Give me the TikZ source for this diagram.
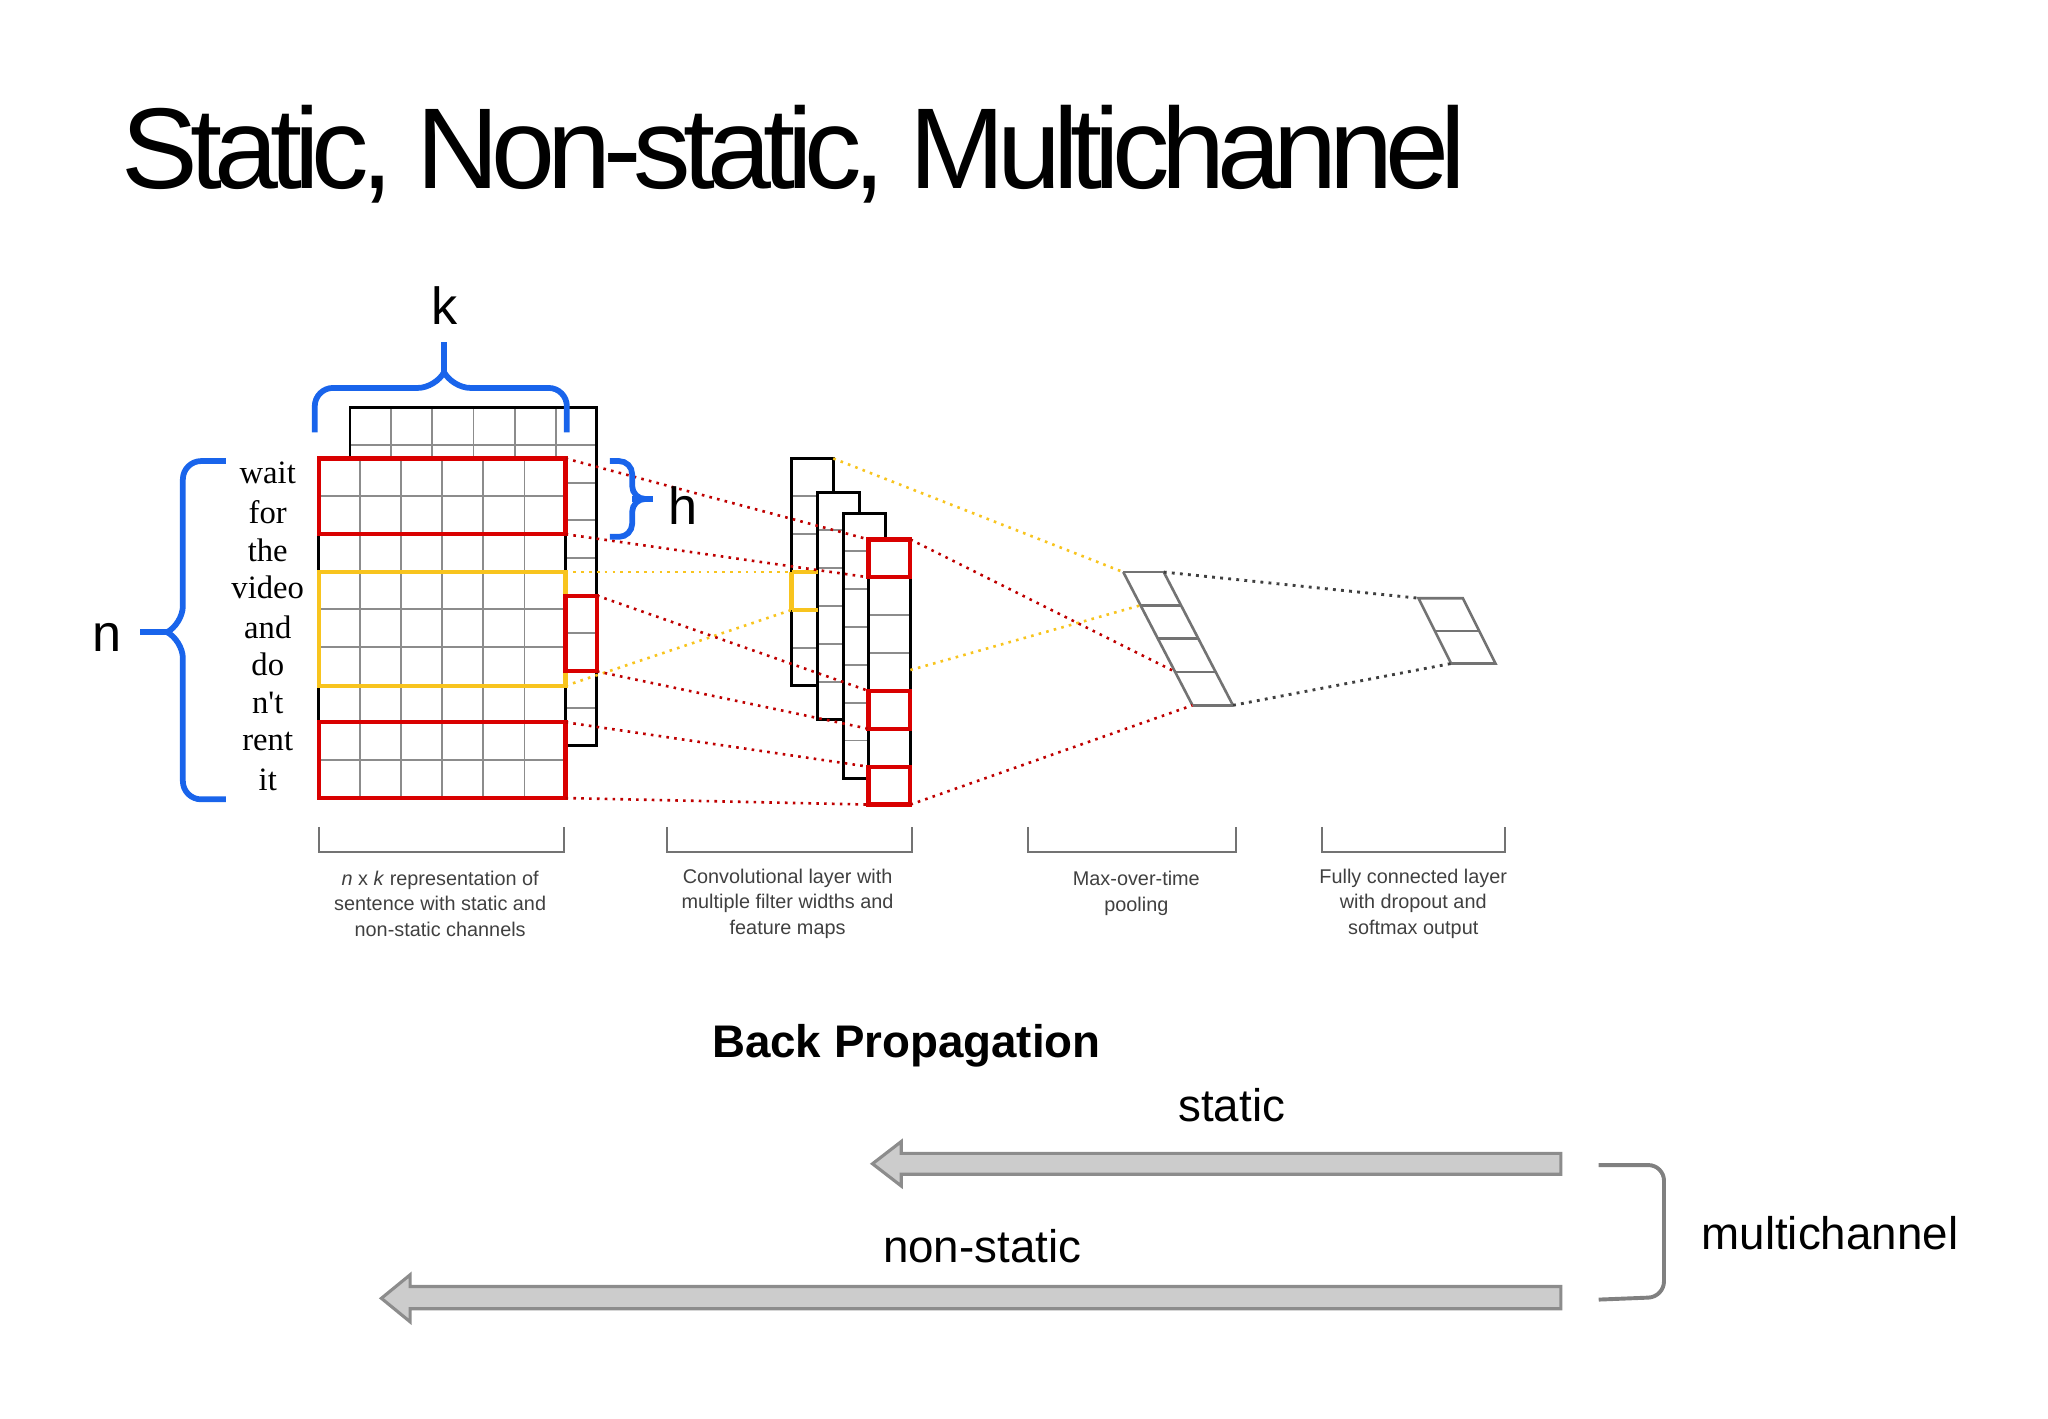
\documentclass[tikz,border=0pt]{standalone}
\usepackage{fontspec}
\setmainfont{Liberation Sans}
\newfontfamily\serifw{Liberation Serif}
\definecolor{ygold}{RGB}{248,196,30}
\definecolor{bbrace}{RGB}{25,100,235}
\begin{document}
\begin{tikzpicture}[x=0.5pt,y=-0.5pt,
  gridc/.style={draw=black!45,line width=0.7pt},
  outer/.style={draw=black,line width=1.1pt},
  redb/.style={draw=red!85!black,line width=1.6pt},
  yelb/.style={draw=ygold,line width=1.6pt},
  rdot/.style={red!75!black,dotted,line width=1pt},
  ydot/.style={ygold,dotted,line width=1pt},
  kdot/.style={black!75,dotted,line width=1.1pt},
  brace/.style={draw=bbrace,line width=2.2pt,rounded corners=7pt},
  word/.style={font=\serifw\fontsize{12.5}{13}\selectfont,inner sep=0pt},
  captxt/.style={font=\fontsize{7.6}{9.7}\selectfont,align=center,text=black!75,inner sep=0pt},
  brk/.style={draw=black!55,line width=0.8pt},
  big/.style={font=\fontsize{17.5}{20}\selectfont,inner sep=0pt},
  bparrow/.style={fill=black!20,draw=black!45,line width=1.2pt}]
\useasboundingbox (0,0) rectangle (1568,1086);
% title
\node[anchor=west,inner sep=0pt,font=\fontsize{44}{50}\selectfont\addfontfeatures{LetterSpace=-7}] (title) at (93,118) {Static, Non-static, Multichannel};
% back matrix
\fill[white] (268,312) rectangle (457,571);
\foreach \i in {1,...,8} \draw[gridc] (268,312+28.78*\i) -- (457,312+28.78*\i);
\foreach \j in {1,...,5} \draw[gridc] (268+31.5*\j,312) -- (268+31.5*\j,571);
\draw[outer] (268,312) rectangle (457,571);
% front matrix
\fill[white] (244,351) rectangle (433,611);
\foreach \i in {1,...,8} \draw[gridc] (244,351+28.89*\i) -- (433,351+28.89*\i);
\foreach \j in {1,...,5} \draw[gridc] (244+31.5*\j,351) -- (244+31.5*\j,611);
\draw[outer] (244,351) rectangle (433,611);
\draw[redb] (244,351) rectangle (433,409);
\draw[yelb] (244,438) rectangle (433,525);
\draw[redb] (244,553) rectangle (433,611);
\draw[redb] (433,456) rectangle (457,514);
% words
\foreach \w/\y in {wait/362,for/392,the/421,video/450,and/480,do/509,n't/538,rent/568,it/597}
  \node[word] at (205,\y) {\w};
% feature columns
\foreach \x/\t/\n in {606/351/6,626/377/6,646/393/7,665/413/7}{
  \fill[white] (\x,\t) rectangle (\x+32,\t+29*\n);
  \foreach \i in {1,...,\n} \draw[gridc] (\x,\t+29*\i) -- (\x+32,\t+29*\i);
  \draw[outer] (\x,\t) rectangle (\x+32,\t+29*\n);
}
\draw[yelb] (606,438) -- (606,467);
\draw[yelb] (606,438) -- (626,438);
\draw[yelb] (606,467) -- (626,467);
\draw[redb] (665,413) rectangle (697,442);
\draw[redb] (665,529) rectangle (697,558);
\draw[redb] (665,587) rectangle (697,616);
% pooling
\foreach \i in {0,...,4} \draw[draw=black!55,line width=1pt] (860+0.52*25.5*\i,438+25.5*\i) -- (891+0.52*25.5*\i,438+25.5*\i);
\draw[draw=black!55,line width=1pt] (860,438) -- (913,540);
\draw[draw=black!55,line width=1pt] (891,438) -- (944,540);
% fully connected
\draw[draw=black!55,line width=1pt] (1086,458) -- (1120,458) -- (1145,508) -- (1111,508) -- cycle;
\draw[draw=black!55,line width=1pt] (1098,483) -- (1132,483);
% dotted connectors
\draw[rdot] (433,351) -- (665,413);
\draw[rdot] (433,409) -- (665,442);
\draw[ydot] (433,438) -- (606,438);
\draw[ydot] (433,525) -- (606,467);
\draw[rdot] (457,456) -- (665,529);
\draw[rdot] (457,514) -- (665,558);
\draw[rdot] (433,553) -- (665,587);
\draw[rdot] (433,611) -- (665,616);
\draw[ydot] (638,351) -- (860,438);
\draw[ydot] (697,513) -- (873,463.5);
\draw[rdot] (697,413) -- (900,514.5);
\draw[rdot] (697,616) -- (913,540);
\draw[kdot] (891,438) -- (1086,458);
\draw[kdot] (944,540) -- (1111,508);
% braces
\draw[brace] (241,331) -- (241,297) -- (334,297) -- (340,285);
\draw[brace] (340,285) -- (346,297) -- (434,297) -- (434,331);
\draw[brace,rounded corners=0pt] (340,289) -- (340,262);
\node[font=\fontsize{20}{22}\selectfont,inner sep=0pt] (k) at (340,234) {k};
\draw[brace] (173,353) -- (140,353) -- (140,478) -- (128,484);
\draw[brace] (128,484) -- (140,490) -- (140,612) -- (173,612);
\draw[brace,rounded corners=0pt] (130,484) -- (107,484);
\node[font=\fontsize{20}{22}\selectfont,inner sep=0pt] (n) at (82,488) {n};
\draw[brace,rounded corners=5pt] (467,353) -- (484,353) -- (484,382) -- (488,382);
\draw[brace,rounded corners=5pt] (488,382) -- (484,382) -- (484,411) -- (467,411);
\draw[brace,rounded corners=0pt] (484,382) -- (500,382);
\node[font=\fontsize{20}{22}\selectfont,inner sep=0pt] (h) at (523,387) {h};
% bottom brackets and captions
\foreach \a/\b in {244/432,511/698,787/946,1012/1152}
  \draw[brk] (\a,633) -- (\a,652) -- (\b,652) -- (\b,633);
\node[captxt] (c1) at (337,692) {\textit{n} x \textit{k} representation of\\sentence with static and\\non-static channels};
\node[captxt] (c2) at (603,692) {Convolutional layer with\\multiple filter widths and\\feature maps};
\node[captxt] (c3) at (870,684) {Max-over-time\\pooling};
\node[captxt] (c4) at (1082,692) {Fully connected layer\\with dropout and\\softmax output};
% back propagation
\node[big,font=\bfseries\fontsize{17.5}{20}\selectfont] (bp) at (694,801) {Back Propagation};
\node[big] (st) at (943,846) {static};
\node[big] (ns) at (752,954) {non-static};
\node[big] (mc) at (1401,944) {multichannel};
\draw[bparrow] (1195,883) -- (690,883) -- (690,874) -- (668,891) -- (690,908) -- (690,899) -- (1195,899) -- cycle;
\draw[bparrow] (1195,985) -- (314,985) -- (314,976) -- (292,994) -- (314,1012) -- (314,1002) -- (1195,1002) -- cycle;
\draw[draw=black!50,line width=1.5pt,rounded corners=6pt] (1224,892) -- (1274,892) -- (1274,993) -- (1224,995);
\end{tikzpicture}
\end{document}
